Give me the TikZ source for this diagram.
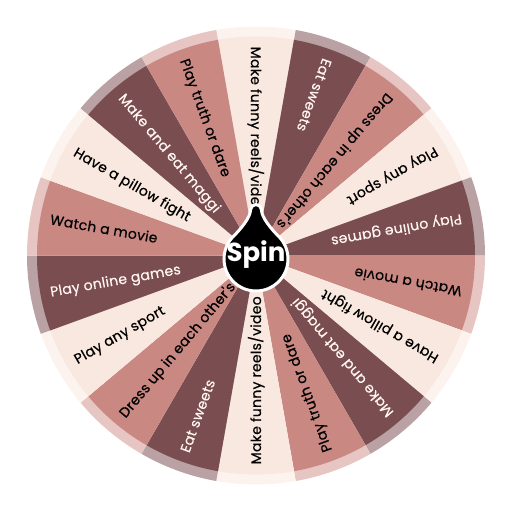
\documentclass[tikz,border=0pt]{standalone}
\usepackage{fontspec}
\setmainfont{Poppins}
\newfontfamily\labfont{Poppins}[FakeBold=0.5, LetterSpace=2]
\usetikzlibrary{calc}
\definecolor{segdark}{HTML}{7A4D51}
\definecolor{segpink}{HTML}{C98882}
\definecolor{segcream}{HTML}{F8E8DF}
\definecolor{rimdark}{HTML}{B9A1A4}
\definecolor{rimpink}{HTML}{E7C5C2}
\definecolor{rimcream}{HTML}{FCF3EE}
\definecolor{lightText}{HTML}{FFF6F1}
\newcommand\myslash{/}
\tikzset{
  lab/.style={font=\labfont\fontsize{14}{15}\selectfont, inner sep=0pt, anchor=base west},
  hubtext/.style={font=\fontsize{26}{28}\selectfont\bfseries, text=white, inner sep=0pt, anchor=base}
}
\begin{document}
\begin{tikzpicture}
\useasboundingbox (-256pt,-256.5pt) rectangle (256pt,255.5pt);
\foreach \txt/\col/\tcol [count=\k from 0] in {
  Make funny reels\myslash video/cream/black,
  Eat sweets/dark/lightText,
  Dress up in each other's/pink/black,
  Play any sport/cream/black,
  Play online games/dark/lightText,
  Watch a movie/pink/black,
  Have a pillow fight/cream/black,
  Make and eat maggi/dark/lightText,
  Play truth or dare/pink/black,
  Make funny reels\myslash video/cream/black,
  Eat sweets/dark/lightText,
  Dress up in each other's/pink/black,
  Play any sport/cream/black,
  Play online games/dark/lightText,
  Watch a movie/pink/black,
  Have a pillow fight/cream/black,
  Make and eat maggi/dark/lightText,
  Play truth or dare/pink/black}
{
  \pgfmathsetmacro{\a}{90-20*\k}
  \fill[rim\col] (0,0) -- (\a-10:229pt) arc[start angle=\a-10, end angle=\a+10, radius=229pt] -- cycle;
  \fill[seg\col] (0,0) -- (\a-10:219pt) arc[start angle=\a-10, end angle=\a+10, radius=219pt] -- cycle;
  \node[lab, text=\tcol, rotate=\a+180] (l\k) at ($(\a:209pt)+(\a+90:5pt)$) {\txt};
}
\draw[white, line width=3pt, fill=black]
  (-5.5pt,45.5pt) arc[start angle=180, end angle=0, radius=5.5pt]
  .. controls (5.5pt,38pt) and (15.6pt,26.1pt) .. (22.63pt,19.13pt)
  arc[start angle=45, end angle=-225, radius=32pt]
  .. controls (-15.6pt,26.1pt) and (-5.5pt,38pt) .. (-5.5pt,45.5pt) -- cycle;
\node[hubtext] (spin) at (0,-6.2pt) {Spin};
\end{tikzpicture}
\end{document}
